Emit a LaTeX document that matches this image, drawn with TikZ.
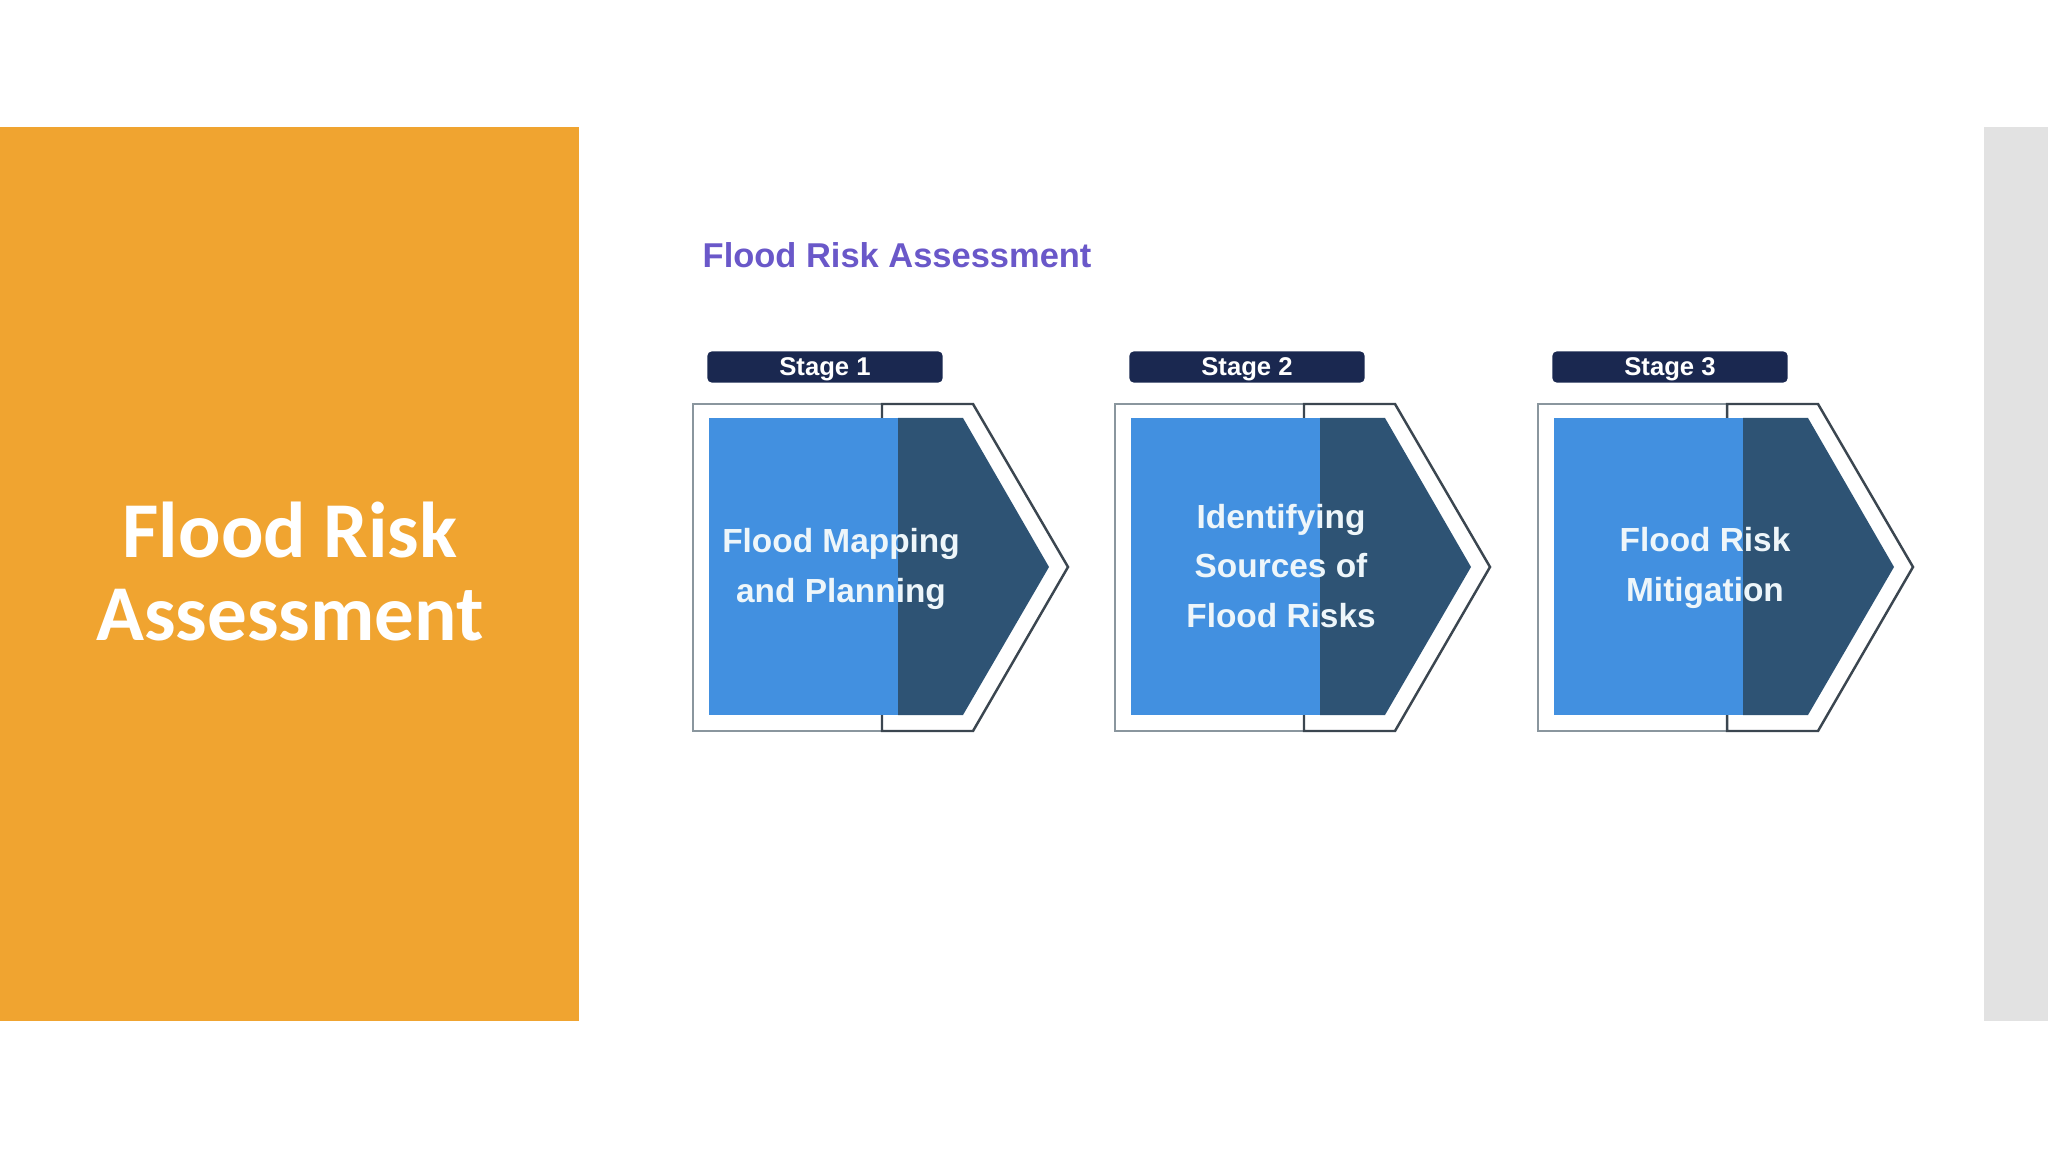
\documentclass[tikz,border=0pt]{standalone}
\usepackage{fontspec}
\setmainfont{Liberation Sans}
\newfontfamily\calfont{Carlito}
\usetikzlibrary{positioning}
\definecolor{panelorange}{HTML}{F0A430}
\definecolor{panelgray}{HTML}{E2E2E2}
\definecolor{lightblue}{HTML}{4290E0}
\definecolor{darkblue}{HTML}{2E5374}
\definecolor{navy}{HTML}{1A2850}
\definecolor{rimlight}{HTML}{8A969E}
\definecolor{rimdark}{HTML}{3B4650}
\definecolor{softwhite}{HTML}{EEF6FA}
\definecolor{headpurple}{HTML}{6A58C9}

\begin{document}
\begin{tikzpicture}[
    x=0.01cm, y=-0.01cm,
    badge/.style={fill=navy, rounded corners=1.2pt, minimum width=2.35cm, minimum height=0.31cm, inner sep=0pt, text depth=0pt, text=white, font=\bfseries\fontsize{7.3}{9}\selectfont},
    blocktext/.style={text=softwhite, align=center, inner sep=0pt, font=\bfseries\fontsize{9.5}{14.2}\selectfont},
    rim/.style={line width=0.7pt, line join=miter}
]
\useasboundingbox (0,0) rectangle (2048,1152);
\fill[white] (0,0) rectangle (2048,1152);

% side panels
\fill[panelorange] (0,127) rectangle (579,1021);
\fill[panelgray] (1984,127) rectangle (2048,1021);
\node[text=white, align=center, font=\calfont\bfseries\fontsize{22.5}{23.6}\selectfont] (sidetitle) at (290,572) {Flood Risk\\Assessment};

% heading
\node[anchor=west, inner sep=0pt, text=headpurple, font=\bfseries\fontsize{9.8}{11}\selectfont] (heading) at (702,255) {Flood Risk Assessment};

% stage shapes
\foreach \dx/\i in {0/1, 422/2, 845/3} {
  \begin{scope}[shift={(\dx,0)}]
    \draw[rim, rimlight] (882,404) -- (693,404) -- (693,731) -- (882,731);
    \draw[rim, rimdark] (882,731) -- (882,404) -- (973,404) -- (1068,567) -- (973,731) -- cycle;
    \fill[lightblue] (709,418) rectangle (898,715);
    \fill[darkblue] (898,418) -- (963,418) -- (1049,567) -- (963,715) -- (898,715) -- cycle;
    \node[badge] (stage\i) at (825,367) {Stage \i};
  \end{scope}
}

% stage texts
\node[blocktext] (mapping) at (841,569) {Flood Mapping\\and Planning};
\node[blocktext] (sources) at (1281,566) {Identifying\\Sources of\\Flood Risks};
\node[blocktext] (mitigation) at (1705,568) {Flood Risk\\Mitigation};
\end{tikzpicture}
\end{document}
